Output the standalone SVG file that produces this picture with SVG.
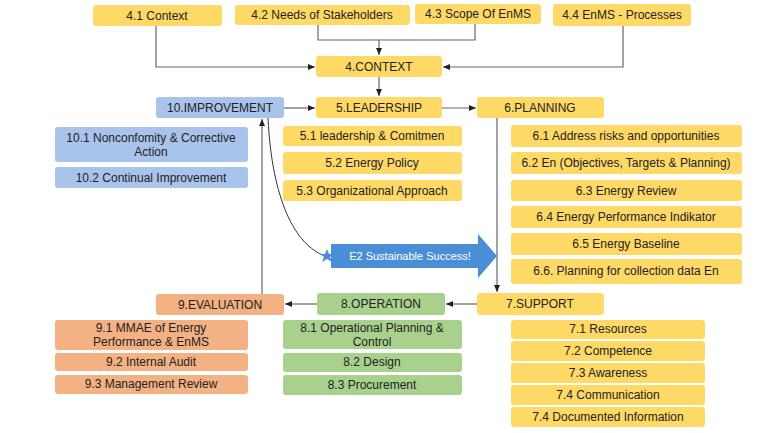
<svg xmlns="http://www.w3.org/2000/svg" width="768" height="433" viewBox="0 0 768 433">
<defs>
<style>
text{font-family:"Liberation Sans",Arial,sans-serif;font-size:12px;fill:#222;text-anchor:middle;dominant-baseline:central}
.y{fill:#FFD966}.b{fill:#A9C4EB}.o{fill:#F4B183}.g{fill:#A9D18E}
rect{rx:3}
.c{fill:none;stroke:#666;stroke-width:1.2}
</style>
<marker id="a" markerWidth="8" markerHeight="8" refX="7" refY="4" orient="auto" markerUnits="userSpaceOnUse"><path d="M0,1 L7,4 L0,7 z" fill="#222"/></marker>
</defs>
<rect width="768" height="433" fill="#fff"/>
<g id="connectors">
<path class="c" d="M156,26 V67 H315" marker-end="url(#a)"/>
<path class="c" d="M623,26 V67 H443" marker-end="url(#a)"/>
<path class="c" d="M318,25 V40 H475 V24"/>
<path class="c" d="M379,40 V55" marker-end="url(#a)"/>
<path class="c" d="M379,77 V96" marker-end="url(#a)"/>
<path class="c" d="M284,108 H315" marker-end="url(#a)"/>
<path class="c" d="M442,108 H476" marker-end="url(#a)"/>
<path class="c" d="M497,118 V292" marker-end="url(#a)"/>
<path class="c" d="M477,304 H446" marker-end="url(#a)"/>
<path class="c" d="M317,304 H285" marker-end="url(#a)"/>
<path class="c" d="M262,294 V119" marker-end="url(#a)"/>
<path d="M268,118 C272,200 295,245 325,256" fill="none" stroke="#333" stroke-width="1"/>
</g>
<g id="n41"><rect class="y" x="93" y="5" width="129" height="21"/><text x="157" y="16">4.1 Context</text></g>
<g id="n42"><rect class="y" x="235" y="5" width="175" height="20"/><text x="322" y="15">4.2 Needs of Stakeholders</text></g>
<g id="n43"><rect class="y" x="415" y="4" width="126" height="20"/><text x="478" y="14">4.3 Scope Of EnMS</text></g>
<g id="n44"><rect class="y" x="553" y="4" width="138" height="22"/><text x="622" y="15">4.4 EnMS - Processes</text></g>
<g id="n4"><rect class="y" x="316" y="56" width="126" height="21"/><text x="379" y="67">4.CONTEXT</text></g>
<g id="n10"><rect class="b" x="156" y="97" width="128" height="21"/><text x="220" y="108">10.IMPROVEMENT</text></g>
<g id="n5"><rect class="y" x="316" y="97" width="126" height="21"/><text x="379" y="108">5.LEADERSHIP</text></g>
<g id="n6"><rect class="y" x="477" y="97" width="127" height="21"/><text x="540" y="108">6.PLANNING</text></g>
<g id="n101"><rect class="b" x="55" y="127" width="193" height="35"/><text x="151" y="138">10.1 Nonconfomity &amp; Corrective</text><text x="151" y="152">Action</text></g>
<g id="n102"><rect class="b" x="55" y="167" width="193" height="21"/><text x="151" y="178">10.2 Continual Improvement</text></g>
<g id="n51"><rect class="y" x="283" y="126" width="179" height="20"/><text x="372" y="136">5.1 leadership &amp; Comitmen</text></g>
<g id="n52"><rect class="y" x="283" y="152" width="179" height="22"/><text x="372" y="163">5.2 Energy Policy</text></g>
<g id="n53"><rect class="y" x="283" y="180" width="179" height="21"/><text x="372" y="191">5.3 Organizational Approach</text></g>
<g id="n61"><rect class="y" x="511" y="125" width="231" height="22"/><text x="626" y="136">6.1  Address risks and opportunities</text></g>
<g id="n62"><rect class="y" x="511" y="152" width="231" height="22"/><text x="626" y="163">6.2 En (Objectives, Targets &amp; Planning)</text></g>
<g id="n63"><rect class="y" x="511" y="180" width="231" height="21"/><text x="626" y="191">6.3 Energy Review</text></g>
<g id="n64"><rect class="y" x="511" y="206" width="231" height="22"/><text x="626" y="217">6.4 Energy Performance Indikator</text></g>
<g id="n65"><rect class="y" x="511" y="233" width="231" height="22"/><text x="626" y="244">6.5 Energy Baseline</text></g>
<g id="n66"><rect class="y" x="511" y="259" width="231" height="25"/><text x="626" y="271">6.6. Planning for collection data En</text></g>
<g id="e2">
<path d="M331,244 H478 V234 L497,256 L478,278 V268 H331 Z" fill="#4A8FD6"/>
<path d="M327,249 L329,254 L334,254 L330,257 L332,262 L327,259 L322,262 L324,257 L320,254 L325,254 Z" fill="#4A8FD6"/>
<text x="410" y="256" style="fill:#fff;font-size:11px">E2 Sustainable Success!</text>
</g>
<g id="n9"><rect class="o" x="156" y="294" width="128" height="21"/><text x="220" y="305">9.EVALUATION</text></g>
<g id="n8"><rect class="g" x="317" y="293" width="128" height="22"/><text x="381" y="304">8.OPERATION</text></g>
<g id="n7"><rect class="y" x="477" y="293" width="127" height="22"/><text x="540" y="304">7.SUPPORT</text></g>
<g id="n91"><rect class="o" x="55" y="320" width="193" height="30"/><text x="151" y="328">9.1 MMAE of Energy</text><text x="151" y="342">Performance &amp; EnMS</text></g>
<g id="n92"><rect class="o" x="55" y="353" width="193" height="18"/><text x="151" y="362">9.2 Internal Audit</text></g>
<g id="n93"><rect class="o" x="55" y="375" width="193" height="19"/><text x="151" y="384">9.3 Management Review</text></g>
<g id="n81"><rect class="g" x="283" y="320" width="179" height="29"/><text x="372" y="328">8.1 Operational Planning &amp;</text><text x="372" y="342">Control</text></g>
<g id="n82"><rect class="g" x="283" y="353" width="179" height="19"/><text x="372" y="362">8.2 Design</text></g>
<g id="n83"><rect class="g" x="283" y="375" width="179" height="20"/><text x="372" y="385">8.3 Procurement</text></g>
<g id="n71"><rect class="y" x="511" y="320" width="194" height="19"/><text x="608" y="329">7.1 Resources</text></g>
<g id="n72"><rect class="y" x="511" y="341" width="194" height="20"/><text x="608" y="351">7.2 Competence</text></g>
<g id="n73"><rect class="y" x="511" y="363" width="194" height="20"/><text x="608" y="373">7.3 Awareness</text></g>
<g id="n74"><rect class="y" x="511" y="385" width="194" height="20"/><text x="608" y="395">7.4 Communication</text></g>
<g id="n75"><rect class="y" x="511" y="407" width="194" height="20"/><text x="608" y="417">7.4 Documented Information</text></g>
</svg>
